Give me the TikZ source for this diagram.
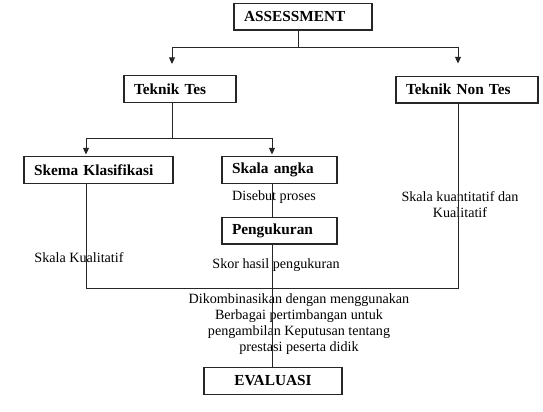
\documentclass[tikz,border=0pt]{standalone}
\usepackage{fontspec}
\setmainfont{Liberation Serif}
\usetikzlibrary{arrows.meta,calc}

\begin{document}
\begin{tikzpicture}[x=0.75pt,y=-0.75pt,line width=0.75pt,
    box/.style={draw=black!85,line width=1pt,inner xsep=7.5pt,minimum height=20pt,align=left,
      font=\fontsize{11.5}{13}\selectfont\bfseries},
    txt/.style={align=center,inner sep=0pt,font=\fontsize{10.6}{12}\selectfont},
    conn/.style={draw=black!85},
    arr/.style={conn,-{Triangle[length=5pt,width=4.5pt]}}]
  \useasboundingbox (0,0) rectangle (543,411);
  \node[box,text width=88.5pt] (assess) at (303,16.5) {ASSESSMENT};
  \node[box,text width=69pt] (tes) at (180,89) {Teknik Tes};
  \node[box,text width=91.5pt] (nontes) at (467,89.5) {Teknik Non Tes};
  \node[box,text width=96.75pt] (skema) at (98.5,170) {Skema Klasifikasi};
  \node[box,text width=71.25pt] (skala) at (279.5,170) {Skala angka};
  \node[box,text width=71.25pt] (peng) at (279.5,230.5) {Pengukuran};
  \node[box,text width=88.5pt,align=center] (eval) at (273,381) {EVALUASI};
  \node[txt] (proses) at (274,197) {Disebut proses};
  \node[txt] (skor) at (276,265) {Skor hasil pengukuran};
  \node[txt] (kual) at (79,258) {Skala Kualitatif};
  \node[txt] (kuan) at (460,205) {Skala kuantitatif dan\\Kualitatif};
  \node[txt] (komb) at (299,324.5) {Dikombinasikan dengan menggunakan\\Berbagai pertimbangan untuk\\pengambilan Keputusan tentang\\prestasi peserta didik};
  \draw[conn] ($(assess.south)+(-5,0)$) -- ++(0,17) coordinate (j1);
  \draw[arr] (j1) -| ($(tes.north)+(-8,-11)$);
  \draw[arr] (j1) -| ($(nontes.north)+(-9,-12)$);
  \draw[conn] ($(tes.south)+(-8,0)$) -- ++(0,35) coordinate (j2);
  \draw[arr] (j2) -| ($(skema.north)+(-12.5,-1.5)$);
  \draw[arr] (j2) -| ($(skala.north)+(-7.5,-1.5)$);
  \draw[conn] ($(skala.south)+(-7.5,0)$) -- ($(peng.north)+(-7.5,0)$);
  \draw[conn] ($(peng.south)+(-7.5,0)$) coordinate (p) -- (p |- eval.north);
  \draw[conn] ($(skema.south)+(-12.5,0)$) -- ++(0,104) -| ($(nontes.south)+(-9,0)$);
\end{tikzpicture}
\end{document}
